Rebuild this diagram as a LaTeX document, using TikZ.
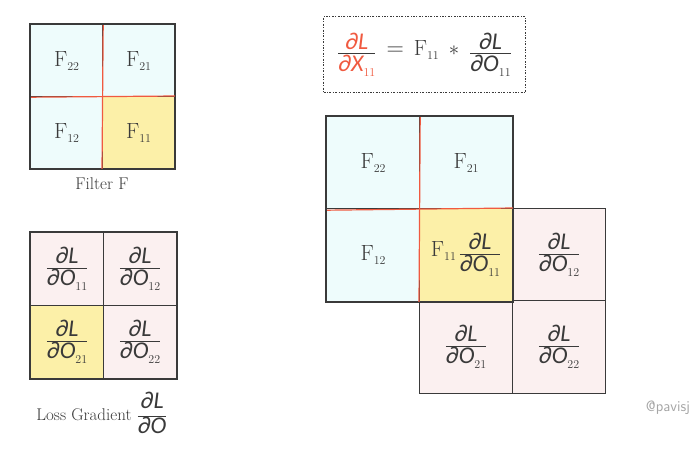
\documentclass[tikz,border=0pt]{standalone}
\usepackage{fontspec}
\newfontfamily\carl{Carlito}
\definecolor{cy}{HTML}{EEFCFC}
\definecolor{pk}{HTML}{FBF0F0}
\definecolor{yl}{HTML}{FCF0A8}
\definecolor{rd}{HTML}{F05A40}
\definecolor{gr}{HTML}{3A3A3A}
\newcommand{\Fs}[1]{{\fontsize{22}{22}\selectfont F}{\fontsize{12}{12}\selectfont\raisebox{-4pt}{#1}}}
\newcommand{\dLG}[3]{\ensuremath{\displaystyle\frac{\hbox{\carl\itshape\fontsize{24}{24}\selectfont\color{#1}∂L}}{\hbox{\carl\itshape\fontsize{24}{24}\selectfont\color{#1}∂#2\raisebox{-5pt}{\upshape\rmfamily\fontsize{12}{12}\selectfont\color{#1}#3}}}}}
\newcommand{\dLO}[1]{\dLG{gr}{O}{#1}}
\begin{document}
\begin{tikzpicture}[x=1pt,y=-1pt,
  cell/.style={draw=gr,line width=1.2pt,minimum width=#1,minimum height=#1,inner sep=0pt,anchor=north west,text=gr},
  redl/.style={draw=rd,line width=1.2pt}]
\useasboundingbox[fill=white] (0,0) rectangle (700,466);
% Filter F
\node[cell=72pt,fill=cy] (fa) at (30,24) {\Fs{22}};
\node[cell=72pt,fill=cy] (fb) at (102,24) {\Fs{21}};
\node[cell=72pt,fill=cy] (fc) at (30,96) {\Fs{12}};
\node[cell=72pt,fill=yl] (fd) at (102,96) {\Fs{11}};
\draw[redl] (fa.north east) -- (fd.south west);
\draw[redl] (fa.south west) -- (fd.north east);
\draw[gr,line width=1.4pt] (fa.north west) rectangle (fd.south east);
\node[text=gr,font=\fontsize{17}{18}\selectfont] (fl) at (102,184) {Filter F};
% Loss gradient
\node[cell=73pt,fill=pk] (ga) at (30,232) {\dLO{11}};
\node[cell=73pt,fill=pk] (gb) at (103,232) {\dLO{12}};
\node[cell=73pt,fill=yl] (gc) at (30,305) {\dLO{21}};
\node[cell=73pt,fill=pk] (gd) at (103,305) {\dLO{22}};
\draw[gr,line width=1.4pt] (ga.north west) rectangle (gd.south east);
\node[text=gr,font=\fontsize{17}{18}\selectfont] (gl) at (102,413) {Loss Gradient \ensuremath{\displaystyle\frac{\hbox{\carl\itshape\fontsize{24}{24}\selectfont ∂L}}{\hbox{\carl\itshape\fontsize{24}{24}\selectfont ∂O}}}};
% Equation
\node[draw=gr,dash pattern=on 2pt off 1.5pt on 0.8pt off 1.5pt,line width=1pt,minimum width=202pt,minimum height=76pt,anchor=north west,inner sep=0pt,text=gr] (eq) at (323,16)
 {\dLG{rd}{X}{11}\quad{\fontsize{24}{24}\selectfont =}\quad\Fs{11}\quad{\fontsize{20}{20}\selectfont$\ast$}\quad\dLO{11}};
% Big grids
\node[cell=93pt,fill=pk] (p12) at (512,208) {\dLO{12}};
\node[cell=93pt,fill=pk] (p21) at (419,300) {\dLO{21}};
\node[cell=93pt,fill=pk] (p22) at (512,300) {\dLO{22}};
\node[cell=93pt,fill=cy] (b22) at (326,116) {\Fs{22}};
\node[cell=93pt,fill=cy] (b21) at (419,116) {\Fs{21}};
\node[cell=93pt,fill=cy] (b12) at (326,208) {\Fs{12}};
\node[cell=93pt,fill=yl] (b11) at (419,208) {\Fs{11}\;\dLO{11}};
\draw[redl] (b22.north east) -- (b11.south west);
\draw[redl] (b22.south west) -- (b11.north east);
\draw[gr,line width=1.4pt] (b22.north west) rectangle (b11.south east);
\node[text=gray!70,font=\sffamily\fontsize{15}{16}\selectfont] (wm) at (668,408) {@pavisj};
\end{tikzpicture}
\end{document}
